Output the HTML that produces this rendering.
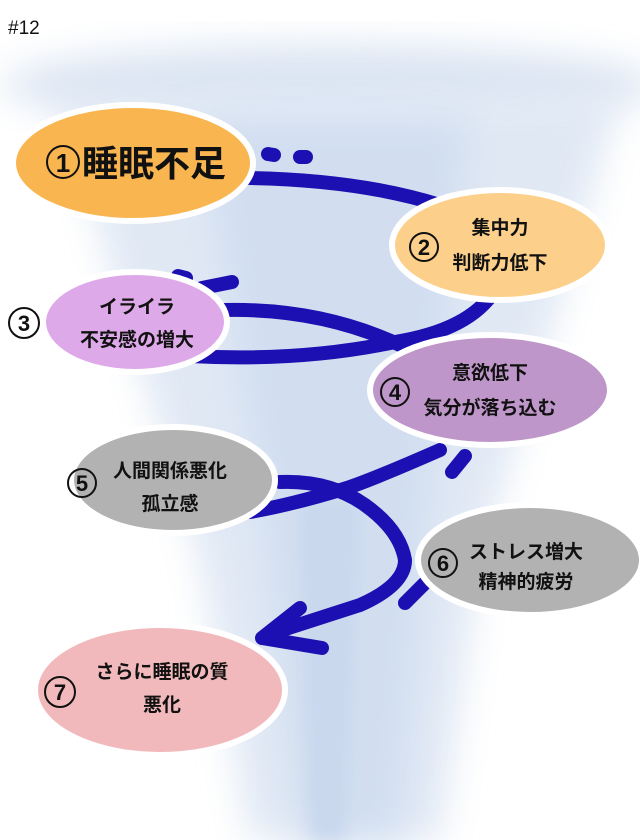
<!DOCTYPE html>
<html><head><meta charset="utf-8"><style>
html,body{margin:0;padding:0;background:#fff}
svg{display:block}
text{font-family:"Liberation Sans","Noto Sans CJK JP",sans-serif;font-weight:bold;fill:#111}
</style></head><body>
<svg width="640" height="840" viewBox="0 0 640 840" xmlns="http://www.w3.org/2000/svg">
<defs>
<filter id="b1" x="-30%" y="-30%" width="160%" height="160%"><feGaussianBlur stdDeviation="18"/></filter>
<filter id="b2" x="-30%" y="-30%" width="160%" height="160%"><feGaussianBlur stdDeviation="8"/></filter>
</defs>
<rect width="640" height="840" fill="#fff"/>
<g opacity="0.75">
<ellipse cx="330" cy="85" rx="330" ry="40" fill="#cfdcee" filter="url(#b1)"/>
<polygon points="60,95 620,95 560,300 480,560 440,840 250,840 200,560 120,300" fill="#d6e1f1" filter="url(#b1)"/>
<polygon points="200,120 470,120 430,500 400,840 300,840 260,500" fill="#c3d4ec" filter="url(#b1)"/>
<polygon points="300,500 360,500 345,840 310,840" fill="#b7cbe8" filter="url(#b2)"/>
</g>
<text x="8" y="34" font-size="19" style="font-weight:normal">#12</text>
<g fill="none" stroke="#1c10b2" stroke-width="14" stroke-linecap="round">
<path d="M250,178 Q360,180 440,205"/>
<path d="M495,290 Q470,330 395,342 Q300,362 190,356"/>
<path d="M225,310 Q320,308 400,345"/>
<path d="M440,450 Q360,485 340,490 Q290,505 250,512"/>
<path d="M280,482 Q330,480 365,505 Q400,530 405,560 Q405,585 360,605 L270,634"/>
<path d="M262,638 L300,608 M262,638 L322,648"/>
<path d="M268,154 L274,155 M300,157 L306,157"/>
<path d="M178,276 L186,278 M202,288 L232,282"/>
<path d="M465,456 L452,472"/>
<path d="M425,583 L405,603"/>
</g>
<g stroke="#fff" stroke-width="6">
<ellipse cx="133" cy="163" rx="120" ry="58" fill="#f9b650"/>
<ellipse cx="500" cy="245" rx="108" ry="55" fill="#fcd08b"/>
<ellipse cx="135" cy="322" rx="92" ry="50" fill="#dea9e9"/>
<ellipse cx="490" cy="390" rx="120" ry="55" fill="#bf96c9"/>
<ellipse cx="173" cy="480" rx="102" ry="53" fill="#b2b2b2"/>
<ellipse cx="530" cy="560" rx="112" ry="55" fill="#b2b2b2"/>
<ellipse cx="160" cy="690" rx="125" ry="65" fill="#f1b9bb"/>
</g>
<g fill="none" stroke="#111" stroke-width="2">
<circle cx="63" cy="162" r="16"/>
<circle cx="424" cy="247" r="14"/>
<circle cx="24" cy="323" r="15"/>
<circle cx="395" cy="392" r="14"/>
<circle cx="82" cy="483" r="14"/>
<circle cx="443" cy="563" r="14"/>
<circle cx="60" cy="692" r="15"/>
</g>
<g font-size="22" text-anchor="middle">
<text x="63" y="172" font-size="26">1</text>
<text x="424" y="255">2</text>
<text x="24" y="331">3</text>
<text x="395" y="400">4</text>
<text x="82" y="491">5</text>
<text x="443" y="571">6</text>
<text x="60" y="700">7</text>
</g>
<text x="82" y="176" font-size="36">睡眠不足</text>
<text x="500" y="234" font-size="19" text-anchor="middle">集中力</text>
<text x="500" y="269" font-size="19" text-anchor="middle">判断力低下</text>
<text x="137" y="313" font-size="19" text-anchor="middle">イライラ</text>
<text x="137" y="346" font-size="19" text-anchor="middle">不安感の増大</text>
<text x="490" y="379" font-size="19" text-anchor="middle">意欲低下</text>
<text x="490" y="414" font-size="19" text-anchor="middle">気分が落ち込む</text>
<text x="170" y="477" font-size="19" text-anchor="middle">人間関係悪化</text>
<text x="170" y="510" font-size="19" text-anchor="middle">孤立感</text>
<text x="526" y="558" font-size="19" text-anchor="middle">ストレス増大</text>
<text x="526" y="588" font-size="19" text-anchor="middle">精神的疲労</text>
<text x="162" y="678" font-size="19" text-anchor="middle">さらに睡眠の質</text>
<text x="162" y="711" font-size="19" text-anchor="middle">悪化</text>
</svg>
</body></html>
